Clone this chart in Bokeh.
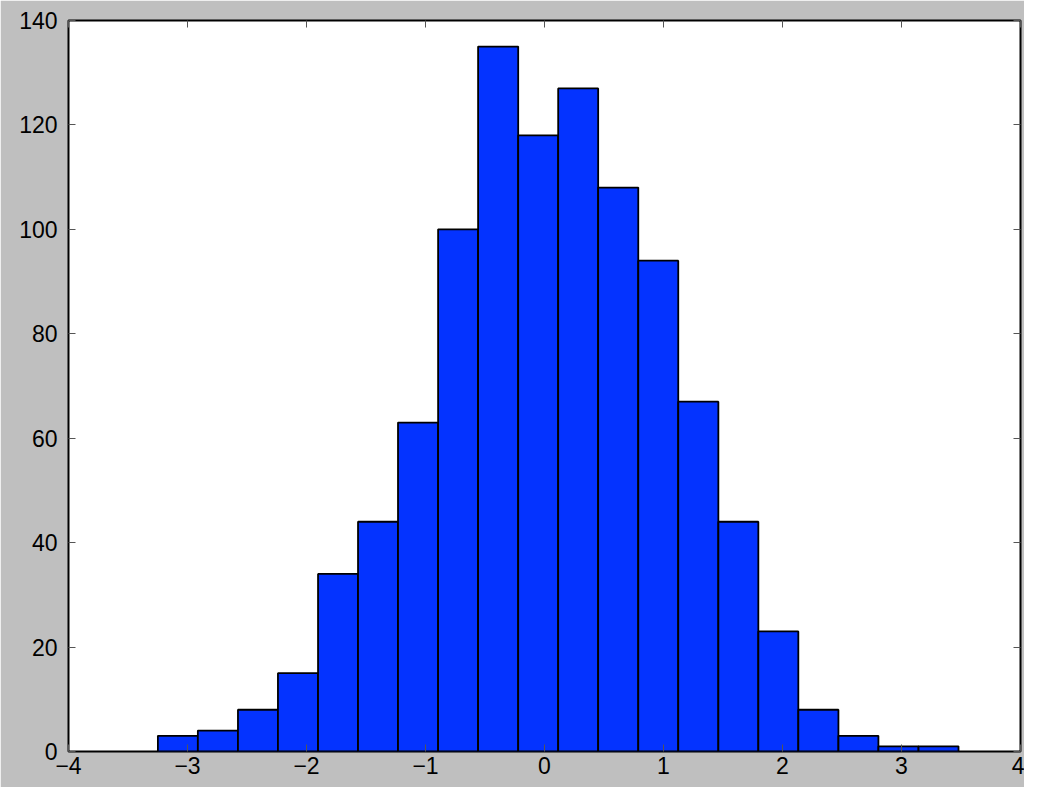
from bokeh.plotting import figure
from bokeh.models import LinearAxis, FixedTicker, Range1d, CustomJSTickFormatter
from bokeh.embed import file_html
from bokeh.resources import INLINE

# histogram data
bin_edges = [-3.249, -2.913, -2.576, -2.240, -1.903, -1.567, -1.231, -0.894,
             -0.558, -0.221, 0.115, 0.451, 0.788, 1.124, 1.461, 1.797,
             2.133, 2.470, 2.806, 3.143, 3.479]
counts = [3, 4, 8, 15, 34, 44, 63, 100, 135, 118, 127, 108, 94, 67, 44, 23,
          8, 3, 1, 1]
x_ticks = [-4, -3, -2, -1, 0, 1, 2, 3, 4]
y_ticks = [0, 20, 40, 60, 80, 100, 120, 140]

BG = "#bfbfbf"
BLUE = "#0433ff"
FONT = "Liberation Sans"

p = figure(width=1024, height=787, output_backend="svg", toolbar_location=None,
           x_range=Range1d(-4, 4), y_range=Range1d(0, 140),
           x_axis_location=None, y_axis_location=None,
           min_border_left=68, min_border_right=4, min_border_top=20,
           min_border_bottom=36)
p.background_fill_color = "white"
p.border_fill_color = BG
p.outline_line_color = "black"
p.outline_line_width = 2
p.grid.visible = False

p.quad(left=bin_edges[:-1], right=bin_edges[1:], bottom=0, top=counts,
       fill_color=BLUE, line_color="black", line_width=1.8)

def minus(v):
    return str(v).replace("-", "\u2212")

def style(ax, labels):
    ax.axis_line_color = None
    ax.major_tick_in = 7
    ax.major_tick_out = 0
    ax.minor_tick_in = 0
    ax.minor_tick_out = 0
    ax.major_tick_line_color = "#555555"
    ax.major_tick_line_width = 1
    if labels:
        ax.major_label_text_font = FONT
        ax.major_label_text_font_size = "23px"
        ax.major_label_text_color = "black"
    else:
        ax.formatter = CustomJSTickFormatter(code="return ''")
        ax.major_label_standoff = 0

xb = LinearAxis(ticker=FixedTicker(ticks=x_ticks),
                major_label_overrides={t: minus(t) for t in x_ticks})
style(xb, True)
xb.major_label_standoff = 5
p.add_layout(xb, "below")

xa = LinearAxis(ticker=FixedTicker(ticks=x_ticks))
style(xa, False)
p.add_layout(xa, "above")

yl = LinearAxis(ticker=FixedTicker(ticks=y_ticks))
style(yl, True)
yl.major_label_standoff = 11
p.add_layout(yl, "left")

yr = LinearAxis(ticker=FixedTicker(ticks=y_ticks))
style(yr, False)
p.add_layout(yr, "right")

open("out.html", "w").write(file_html(p, INLINE))
